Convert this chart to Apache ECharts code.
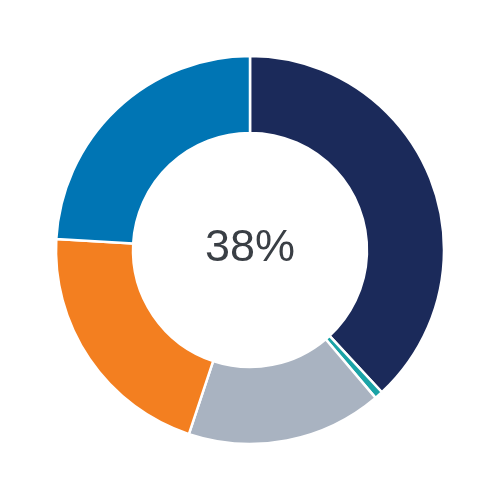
<!DOCTYPE html>
<html><head><meta charset="utf-8">
<script src="https://cdn.jsdelivr.net/npm/echarts@6/dist/echarts.min.js"></script>
<style>html,body{margin:0;padding:0;background:#fff}#c{width:500px;height:500px}</style>
</head><body><div id="c"></div>
<script>
const categories = ['A', 'B', 'C', 'D', 'E'];
const values = [38.1, 0.7, 16.3, 20.8, 24.1];
const colors = ['#1b2a5a', '#1aa3a6', '#a9b3c1', '#f37f20', '#0075b4'];
const centerLabel = '38%';

const chart = echarts.init(document.getElementById('c'), null, {renderer: 'canvas'});
chart.setOption({
  animation: false,
  graphic: [{
    type: 'text', left: 'center', top: 226,
    style: { text: centerLabel, fontSize: 45, fontFamily: 'Liberation Sans, Arial, sans-serif', fill: '#3a3f45' }
  }],
  series: [{
    type: 'pie',
    center: ['50%', '50%'],
    radius: [117, 194],
    startAngle: 90,
    clockwise: true,
    label: { show: false },
    labelLine: { show: false },
    emphasis: { disabled: true },
    itemStyle: { borderColor: '#ffffff', borderWidth: 2.5 },
    data: categories.map((c, i) => ({ name: c, value: values[i], itemStyle: { color: colors[i] } }))
  }]
});
</script></body></html>
